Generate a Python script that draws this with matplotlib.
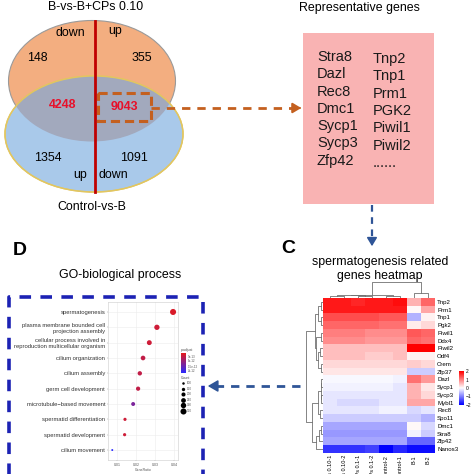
import numpy as np
import matplotlib
matplotlib.use("Agg")
import matplotlib.pyplot as plt
from matplotlib.patches import Ellipse, Rectangle
from matplotlib.colors import LinearSegmentedColormap

plt.rcParams['font.family'] = ['Liberation Sans', 'DejaVu Sans']

# ---- data ----
venn_title_top = "B-vs-B+CPs 0.10"
venn_title_bottom = "Control-vs-B"
venn_counts = {"top_left": "148", "top_right": "355", "mid_left": "4248",
               "mid_right": "9043", "bot_left": "1354", "bot_right": "1091"}

genes_left = ["Stra8", "Dazl", "Rec8", "Dmc1", "Sycp1", "Sycp3", "Zfp42"]
genes_right = ["Tnp2", "Tnp1", "Prm1", "PGK2", "Piwil1", "Piwil2", "......"]

heat_rows = ["Tnp2", "Prm1", "Tnp1", "Pgk2", "Piwil1", "Ddx4", "Piwil2", "Odf4",
             "Crem", "Zfp37", "Dazl", "Sycp1", "Sycp3", "Mybl1", "Rec8", "Spo11",
             "Dmc1", "Stra8", "Zfp42", "Nanos3"]
heat_cols = ["B+CPs 0.10-1", "B+CPs 0.10-2", "B+CPs 0.1-1", "B+CPs 0.1-2",
             "Control-2", "Control-1", "B-1", "B-2"]
heat_vals = np.array([
    [1.8, 1.8, 1.7, 1.8, 1.8, 1.9, 0.6, 1.2],
    [1.8, 1.8, 1.8, 1.8, 1.8, 1.8, 0.05, 0.7],
    [1.4, 1.4, 1.4, 1.4, 1.3, 1.3, -0.6, 0.1],
    [1.2, 1.2, 1.2, 1.2, 1.1, 1.1, 0.15, 0.3],
    [1.0, 1.0, 1.0, 0.9, 0.9, 0.9, 1.3, 1.2],
    [0.9, 0.9, 0.9, 0.8, 0.8, 0.8, 1.2, 1.1],
    [0.5, 0.5, 0.5, 0.5, 0.5, 0.5, 2.0, 2.0],
    [0.5, 0.5, 0.5, 0.4, 0.4, 0.5, 0.1, 0.1],
    [0.3, 0.3, 0.3, 0.3, 0.3, 0.3, 0.4, 0.3],
    [0.2, 0.2, 0.2, 0.2, 0.2, 0.2, -0.4, -0.4],
    [-0.05, -0.05, -0.05, -0.05, -0.05, -0.1, 1.1, 0.8],
    [-0.1, -0.1, -0.1, -0.1, -0.1, -0.2, 0.6, 0.2],
    [-0.2, -0.2, -0.2, -0.2, -0.2, -0.2, 0.6, 0.3],
    [-0.2, -0.3, -0.3, -0.3, -0.2, -0.2, 0.7, 0.7],
    [-0.2, -0.2, -0.2, -0.2, -0.1, -0.1, -0.3, -0.2],
    [-0.4, -0.4, -0.4, -0.4, -0.4, -0.4, -0.4, -0.6],
    [-0.7, -0.7, -0.7, -0.7, -0.7, -0.7, 0.05, -0.3],
    [-0.8, -0.8, -0.8, -0.8, -0.8, -0.8, -0.1, -0.4],
    [-0.7, -0.7, -0.7, -0.7, -0.7, -0.7, -1.2, -1.2],
    [-1.6, -1.6, -1.6, -1.5, -2.0, -1.7, -1.9, -1.9],
])
# dendrograms: (left, right, height), leaves are indices
col_tree = (((((0, 1, 0.1), (2, 3, 0.12), 0.18), (4, 5, 0.1), 0.22)), (6, 7, 0.3), 1.0)
row_tree = (((((0, 1, 0.1), (2, 3, 0.15), 0.3), ((4, 5, 0.1), ((6, 7, 0.2), (8, 9, 0.1), 0.3), 0.4), 0.5)),
            (((((10, 11, 0.1), (12, 13, 0.1), 0.15), (14, 15, 0.2), 0.3)),
             (((16, 17, 0.1), 18, 0.25), 19, 0.4), 0.65), 1.0)

go_terms = ["spermatogenesis",
            "plasma membrane bounded cell\nprojection assembly",
            "cellular process involved in\nreproduction multicellular organism",
            "cilium organization", "cilium assembly", "germ cell development",
            "microtubule\u2212based movement", "spermatid differentiation",
            "spermatid development", "cilium movement"]
go_ratio = [0.0395, 0.031, 0.027, 0.0237, 0.022, 0.0211, 0.0185, 0.0142, 0.014, 0.0075]
go_count = [350, 290, 260, 240, 220, 210, 190, 140, 140, 70]
go_padj = [0.5e-12, 0.6e-12, 0.6e-12, 0.7e-12, 0.7e-12, 0.7e-12, 1.3e-12, 0.6e-12, 0.6e-12, 2.0e-12]
count_ticks = [100, 150, 200, 250, 300, 350]
ratio_ticks = [0.01, 0.02, 0.03, 0.04]

# ---- figure ----
W = 474
fig = plt.figure(figsize=(4.74, 4.74), dpi=100)
ax = fig.add_axes([0, 0, 1, 1])
ax.set_xlim(0, W)
ax.set_ylim(W, 0)
ax.axis("off")


def fa(x0, y0, x1, y1):
    # pixel box -> figure fraction
    return [x0 / W, 1 - y1 / W, (x1 - x0) / W, (y1 - y0) / W]


# Venn
orange = "#f3ae80"
blue = "#a9c9ea"
overlap = "#a2a9bd"
e_top = Ellipse((92, 81), 167, 121, facecolor=orange, edgecolor="#9a9a9a", lw=0.8)
e_bot = Ellipse((94, 134), 178, 116, facecolor=blue, edgecolor="#e2c660", lw=1.0)
ax.add_patch(e_top)
ax.add_patch(e_bot)
e_ov = Ellipse((92, 81), 167, 121, facecolor=overlap, edgecolor="none")
ax.add_patch(e_ov)
e_ov.set_clip_path(e_bot)
ax.add_patch(Ellipse((94, 134), 178, 116, facecolor="none", edgecolor="#e2c660", lw=1.0))
ax.plot([95, 95], [21, 192], color="#c00000", lw=2)

fs = 8.9
ax.text(96, 7, venn_title_top, ha="center", va="center", fontsize=fs)
ax.text(92, 207, venn_title_bottom, ha="center", va="center", fontsize=fs)
ax.text(70, 33, "down", ha="center", va="center", fontsize=fs)
ax.text(115, 31, "up", ha="center", va="center", fontsize=fs)
ax.text(80, 175, "up", ha="center", va="center", fontsize=fs)
ax.text(113, 175, "down", ha="center", va="center", fontsize=fs)
ax.text(37, 58, venn_counts["top_left"], ha="center", va="center", fontsize=fs)
ax.text(142, 58, venn_counts["top_right"], ha="center", va="center", fontsize=fs)
ax.text(63, 105, venn_counts["mid_left"], ha="center", va="center", fontsize=fs,
        color="#e8102a", fontweight="bold")
ax.text(124, 107, venn_counts["mid_right"], ha="center", va="center", fontsize=fs,
        color="#e8102a", fontweight="bold")
ax.text(48, 158, venn_counts["bot_left"], ha="center", va="center", fontsize=fs)
ax.text(134, 158, venn_counts["bot_right"], ha="center", va="center", fontsize=fs)

brown = "#c4601f"
ax.add_patch(Rectangle((98, 93), 53, 28, facecolor="none", edgecolor=brown,
                       lw=2.2, linestyle=(0, (3, 1.6))))
ax.plot([151, 297], [108, 108], color=brown, lw=2, linestyle=(0, (3, 2.5)))
ax.annotate("", xy=(304, 108), xytext=(296, 108),
            arrowprops=dict(arrowstyle="-|>,head_length=0.5,head_width=0.3",
                            color=brown, lw=1.5))

# representative genes box
ax.text(359, 8, "Representative genes", ha="center", va="center", fontsize=fs)
ax.add_patch(Rectangle((303, 33), 131, 171, facecolor="#f9b3b3", edgecolor="none"))
for i, g in enumerate(genes_left):
    ax.text(317, 57 + i * 17.3, g, ha="left", va="center", fontsize=10.5, color="#1a1a1a")
for i, g in enumerate(genes_right):
    ax.text(373, 59 + i * 17.3, g, ha="left", va="center", fontsize=10.5, color="#1a1a1a")

navy = "#2f5597"
ax.plot([372, 372], [205, 240], color=navy, lw=1.6, linestyle=(0, (3, 2.5)))
ax.annotate("", xy=(372, 249), xytext=(372, 239),
            arrowprops=dict(arrowstyle="-|>,head_length=0.5,head_width=0.3",
                            color=navy, lw=1.2))

# panel C
ax.text(288, 248, "C", ha="center", va="center", fontsize=14, fontweight="bold")
ax.text(380, 262, "spermatogenesis related", ha="center", va="center", fontsize=fs)
ax.text(380, 276, "genes heatmap", ha="center", va="center", fontsize=fs)

cmap_h = LinearSegmentedColormap.from_list("bwr2", ["#0000ff", "#ffffff", "#ff0000"])
hx0, hy0, hx1, hy1 = 323, 298, 435, 453
axh = fig.add_axes(fa(hx0, hy0, hx1, hy1))
axh.imshow(heat_vals, cmap=cmap_h, vmin=-2, vmax=2, aspect="auto", interpolation="nearest")
axh.set_xticks(range(len(heat_cols)))
axh.set_xticklabels(heat_cols, rotation=90, fontsize=4)
axh.set_yticks(range(len(heat_rows)))
axh.set_yticklabels(heat_rows, fontsize=4.4)
axh.yaxis.tick_right()
axh.tick_params(length=0, pad=1.5)
for s in axh.spines.values():
    s.set_visible(False)


def draw_tree(a, node, orient):
    if isinstance(node, int):
        return node, 0.0
    l, r, h = node
    pl, hl = draw_tree(a, l, orient)
    pr, hr = draw_tree(a, r, orient)
    if orient == "top":
        a.plot([pl, pl, pr, pr], [hl, h, h, hr], color="#707070", lw=0.6)
    else:
        a.plot([hl, h, h, hr], [pl, pl, pr, pr], color="#707070", lw=0.6)
    return (pl + pr) / 2, h


axc = fig.add_axes(fa(hx0, 282, hx1, hy0))
draw_tree(axc, col_tree, "top")
axc.set_xlim(-0.5, len(heat_cols) - 0.5)
axc.set_ylim(0, 1.03)
axc.axis("off")

axr = fig.add_axes(fa(306, hy0, hx0, hy1))
draw_tree(axr, row_tree, "left")
axr.set_ylim(len(heat_rows) - 0.5, -0.5)
axr.set_xlim(1.03, 0)
axr.axis("off")

axcb = fig.add_axes(fa(459, 371, 464, 405))
grad = np.linspace(2, -2, 100).reshape(-1, 1)
axcb.imshow(grad, cmap=cmap_h, vmin=-2, vmax=2, aspect="auto", extent=[0, 1, -2, 2])
axcb.set_xticks([])
axcb.yaxis.tick_right()
axcb.set_yticks([2, 1, 0, -1, -2])
axcb.tick_params(labelsize=3.5, length=0, pad=1)
for s in axcb.spines.values():
    s.set_visible(False)

# panel D
ax.text(20, 250, "D", ha="center", va="center", fontsize=14, fontweight="bold")
ax.text(120, 275, "GO-biological process", ha="center", va="center", fontsize=fs)
dblue = "#1c22b4"
ax.plot([9, 9, 203, 203], [480, 297, 297, 480], color=dblue, lw=2.6,
        linestyle=(0, (3.2, 2.6)))

ax.plot([300, 214], [386, 386], color=navy, lw=2, linestyle=(0, (3, 2.5)))
ax.annotate("", xy=(205, 386), xytext=(216, 386),
            arrowprops=dict(arrowstyle="-|>,head_length=0.6,head_width=0.35",
                            color=navy, lw=1.2))

axd = fig.add_axes(fa(108, 302, 178, 460))
cmap_d = LinearSegmentedColormap.from_list("rb", ["#e41a1c", "#2b2bff"])
ypos = np.arange(len(go_terms))
sizes = [(c / 350) ** 1.4 * 19 for c in go_count]
axd.scatter(go_ratio, ypos, s=sizes, c=go_padj, cmap=cmap_d, vmin=0.4e-12, vmax=2.0e-12,
            zorder=3, linewidths=0)
axd.set_xlim(0.00526, 0.0421)
axd.set_ylim(len(go_terms) - 0.35, -0.65)
axd.set_yticks(ypos)
axd.set_yticklabels(go_terms, fontsize=4.2, color="#333333", linespacing=1.3)
axd.set_xticks(ratio_ticks)
axd.set_xticklabels([f"{t:.2f}" for t in ratio_ticks], fontsize=2.5, color="#555555")
axd.set_xlabel("GeneRatio", fontsize=2.5, labelpad=1, color="#555555")
axd.tick_params(length=1, width=0.3, pad=1, colors="#888888")
axd.tick_params(axis="y", labelcolor="#333333")
axd.tick_params(axis="x", labelcolor="#555555")
axd.grid(True, color="#ececec", lw=0.4)
axd.set_axisbelow(True)
for s in axd.spines.values():
    s.set_color("#cccccc")
    s.set_linewidth(0.4)

ax.text(181, 350, "p.adjust", ha="left", va="center", fontsize=2.5, color="#555555")
axp = fig.add_axes(fa(181, 353, 186, 373))
grad2 = np.linspace(0, 1, 100).reshape(-1, 1)
axp.imshow(grad2, cmap=cmap_d, aspect="auto", extent=[0, 1, 1, 0])
axp.set_xticks([])
axp.yaxis.tick_right()
axp.set_yticks([0.15, 0.4, 0.65, 0.9])
axp.set_yticklabels(["5e-13", "1e-12", "1.5e-12", "2e-12"], fontsize=2.2, color="#555555")
axp.tick_params(length=0, pad=1)
for s in axp.spines.values():
    s.set_visible(False)

ax.text(181, 378, "Count", ha="left", va="center", fontsize=2.5, color="#555555")
for i, c in enumerate(count_ticks):
    ax.scatter(183, 383 + i * 5.6, s=(c / 350) ** 1.4 * 19, color="black", linewidths=0)
    ax.text(187, 383 + i * 5.6, str(c), ha="left", va="center", fontsize=2.2, color="#555555")

fig.savefig("out.png", dpi=100)
